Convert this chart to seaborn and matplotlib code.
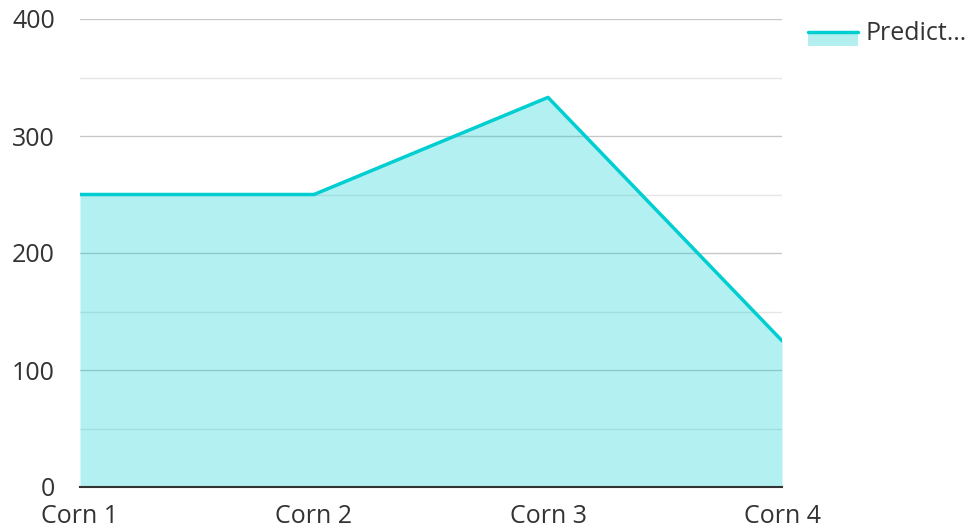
import seaborn as sns
import pandas as pd
import matplotlib.pyplot as plt
from matplotlib.legend_handler import HandlerBase
from matplotlib.patches import Rectangle
from matplotlib.lines import Line2D

# Data
categories = ["Corn 1", "Corn 2", "Corn 3", "Corn 4"]
predicted = [250, 250, 333, 125]
series_name = "Predict…"

df = pd.DataFrame({"crop": categories, "value": predicted})

line_color = "#00CED1"
fill_color = "#B2EFEE"


class AreaHandler(HandlerBase):
    # legend key: filled box with a line along its top edge
    def create_artists(self, legend, orig_handle, xdescent, ydescent,
                       width, height, fontsize, trans):
        y0 = -ydescent - 4
        h = 10
        rect = Rectangle((-xdescent, y0), width, h,
                         facecolor=fill_color, edgecolor="none", transform=trans)
        ln = Line2D([-xdescent, -xdescent + width], [y0 + h, y0 + h],
                    color=line_color, lw=2.5, transform=trans)
        return [rect, ln]


sns.set_theme(style="white")
plt.rcParams["font.family"] = ["Open Sans", "DejaVu Sans"]

fig = plt.figure(figsize=(9.69, 5.28), dpi=100)
ax = fig.add_axes([80 / 969, 41 / 528, 702 / 969, 468 / 528])

x = list(range(len(categories)))
ax.fill_between(x, 0, df["value"], color=line_color, alpha=0.3, lw=0, zorder=2)
sns.lineplot(x=x, y=df["value"], color=line_color, lw=2.5, ax=ax, zorder=3)

ax.set_xlim(0, len(categories) - 1)
ax.set_ylim(0, 400)
ax.set_xticks(x)
ax.set_xticklabels(categories)
ax.set_yticks([0, 100, 200, 300, 400])
ax.set_yticks([50, 150, 250, 350], minor=True)
ax.grid(axis="y", which="major", color="#c8c8c8", lw=1, zorder=1)
ax.grid(axis="y", which="minor", color="#e6e6e6", lw=1, zorder=1)
ax.set_axisbelow(True)
ax.set_xlabel("")
ax.set_ylabel("")

for s in ["top", "right", "left"]:
    ax.spines[s].set_visible(False)
ax.spines["bottom"].set_color("#333333")
ax.spines["bottom"].set_linewidth(1.5)
ax.spines["bottom"].set_zorder(4)

ax.tick_params(axis="both", which="both", length=0, labelsize=18, colors="#333333")
ax.tick_params(axis="y", pad=18)
ax.tick_params(axis="x", pad=12)

ax.legend([object()], [series_name], handler_map={object: AreaHandler()},
          loc="upper left", bbox_to_anchor=(808 / 969, 1 - 21 / 528),
          bbox_transform=fig.transFigure, frameon=False, fontsize=18,
          borderpad=0, borderaxespad=0,
          handlelength=2.0, handleheight=0.7, handletextpad=0.32,
          labelcolor="#333333")

fig.savefig("out.png", dpi=100)
